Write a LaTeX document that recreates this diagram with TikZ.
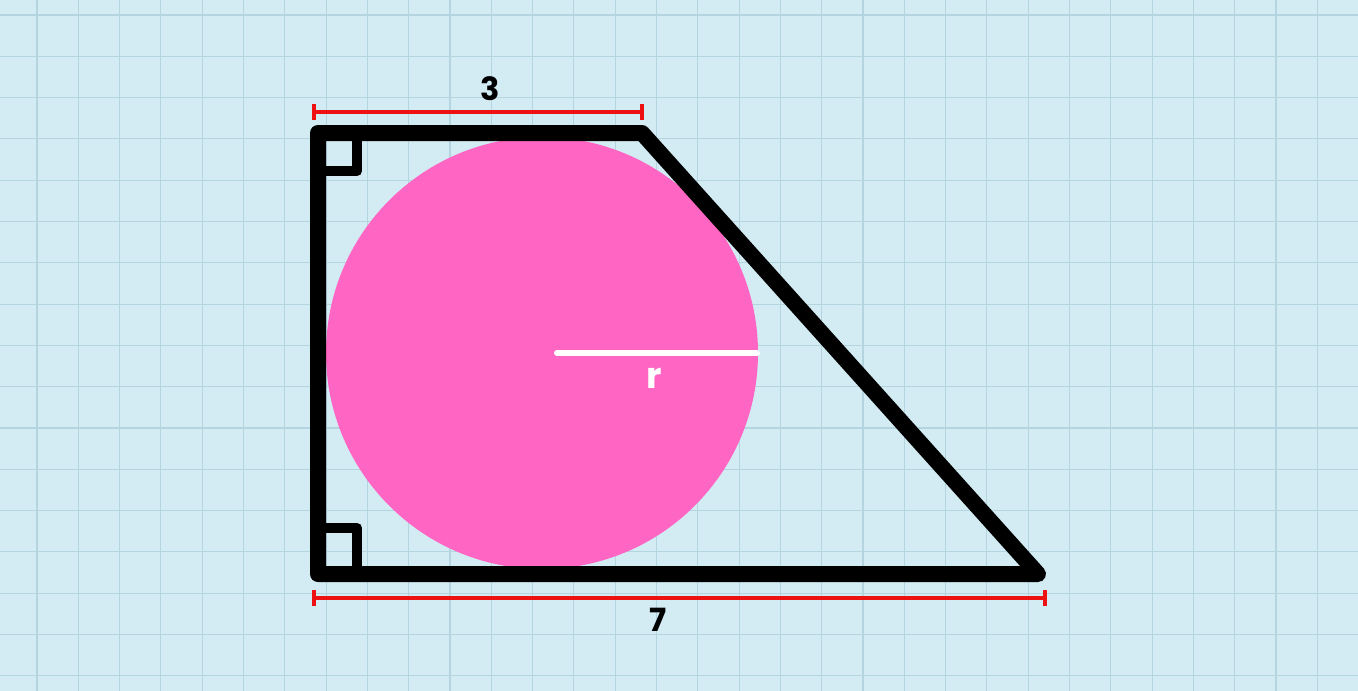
\documentclass[tikz,border=0pt]{standalone}
\usepackage{fontspec}
\setmainfont{Poppins}
\usetikzlibrary{positioning}
\definecolor{paper}{HTML}{D3EBF3}
\definecolor{gridblue}{HTML}{B4D4DF}
\definecolor{circpink}{HTML}{FF66C4}
\definecolor{dimred}{HTML}{EE1111}

\begin{document}
\begin{tikzpicture}[
    x=1pt, y=-1pt,
    gridline/.style={draw=gridblue, line width=1.1pt},
    side/.style={draw=black, line width=16pt, line join=round, line cap=round},
    rightmark/.style={draw=black, line width=10pt, line join=round},
    dimline/.style={draw=dimred, line width=4pt},
    dimtick/.style={draw=dimred, line width=3.5pt},
    lbl/.style={font=\fontsize{32}{32}\selectfont\bfseries, text=black, inner sep=0pt}
]
    % Background and grid
    \fill[paper] (0,0) rectangle (1358,691);
    \useasboundingbox (0,0) rectangle (1358,691);
    \foreach \i in {0,...,33}
        \draw[gridline] ({-4.3+41.3*\i},0) -- ++(0,691);
    \foreach \j in {0,...,17}
        \draw[gridline] (0,{15+41.3*\j}) -- ++(1358,0);

    % Corners of the trapezoid
    \coordinate (tl) at (318,133);
    \coordinate (tr) at (642,133);
    \coordinate (br) at (1038,574);
    \coordinate (bl) at (318,574);

    % Inscribed circle
    \fill[circpink] (542,353) circle (216);
    \coordinate (centre) at (557,353);
    \coordinate (rim) at (757,353);
    \draw[draw=white, line width=6pt, line cap=round] (centre) -- (rim);
    \node[lbl, text=white, font=\fontsize{36}{36}\selectfont\bfseries] (rlabel) at (654,378) {r};

    % Right angle marks
    \draw[rightmark] (318,171) -| (357,133);
    \draw[rightmark] (318,528) -| (357,574);

    % Sides
    \draw[side] (tl) -- (tr) -- (br) -- (bl) -- cycle;

    % Dimension lines
    \coordinate (topA) at (314,112);
    \coordinate (topB) at (642,112);
    \coordinate (botA) at (314,598);
    \coordinate (botB) at (1045,598);
    \draw[dimline] (topA) -- (topB);
    \draw[dimtick] ([yshift=-8]topA) -- ([yshift=8]topA);
    \draw[dimtick] ([yshift=-8]topB) -- ([yshift=8]topB);
    \draw[dimline] (botA) -- (botB);
    \draw[dimtick] ([yshift=-8]botA) -- ([yshift=8]botA);
    \draw[dimtick] ([yshift=-8]botB) -- ([yshift=8]botB);
    \node[lbl] (toplabel) at (490,89) {3};
    \node[lbl] (botlabel) at (658,620) {7};
\end{tikzpicture}
\end{document}
